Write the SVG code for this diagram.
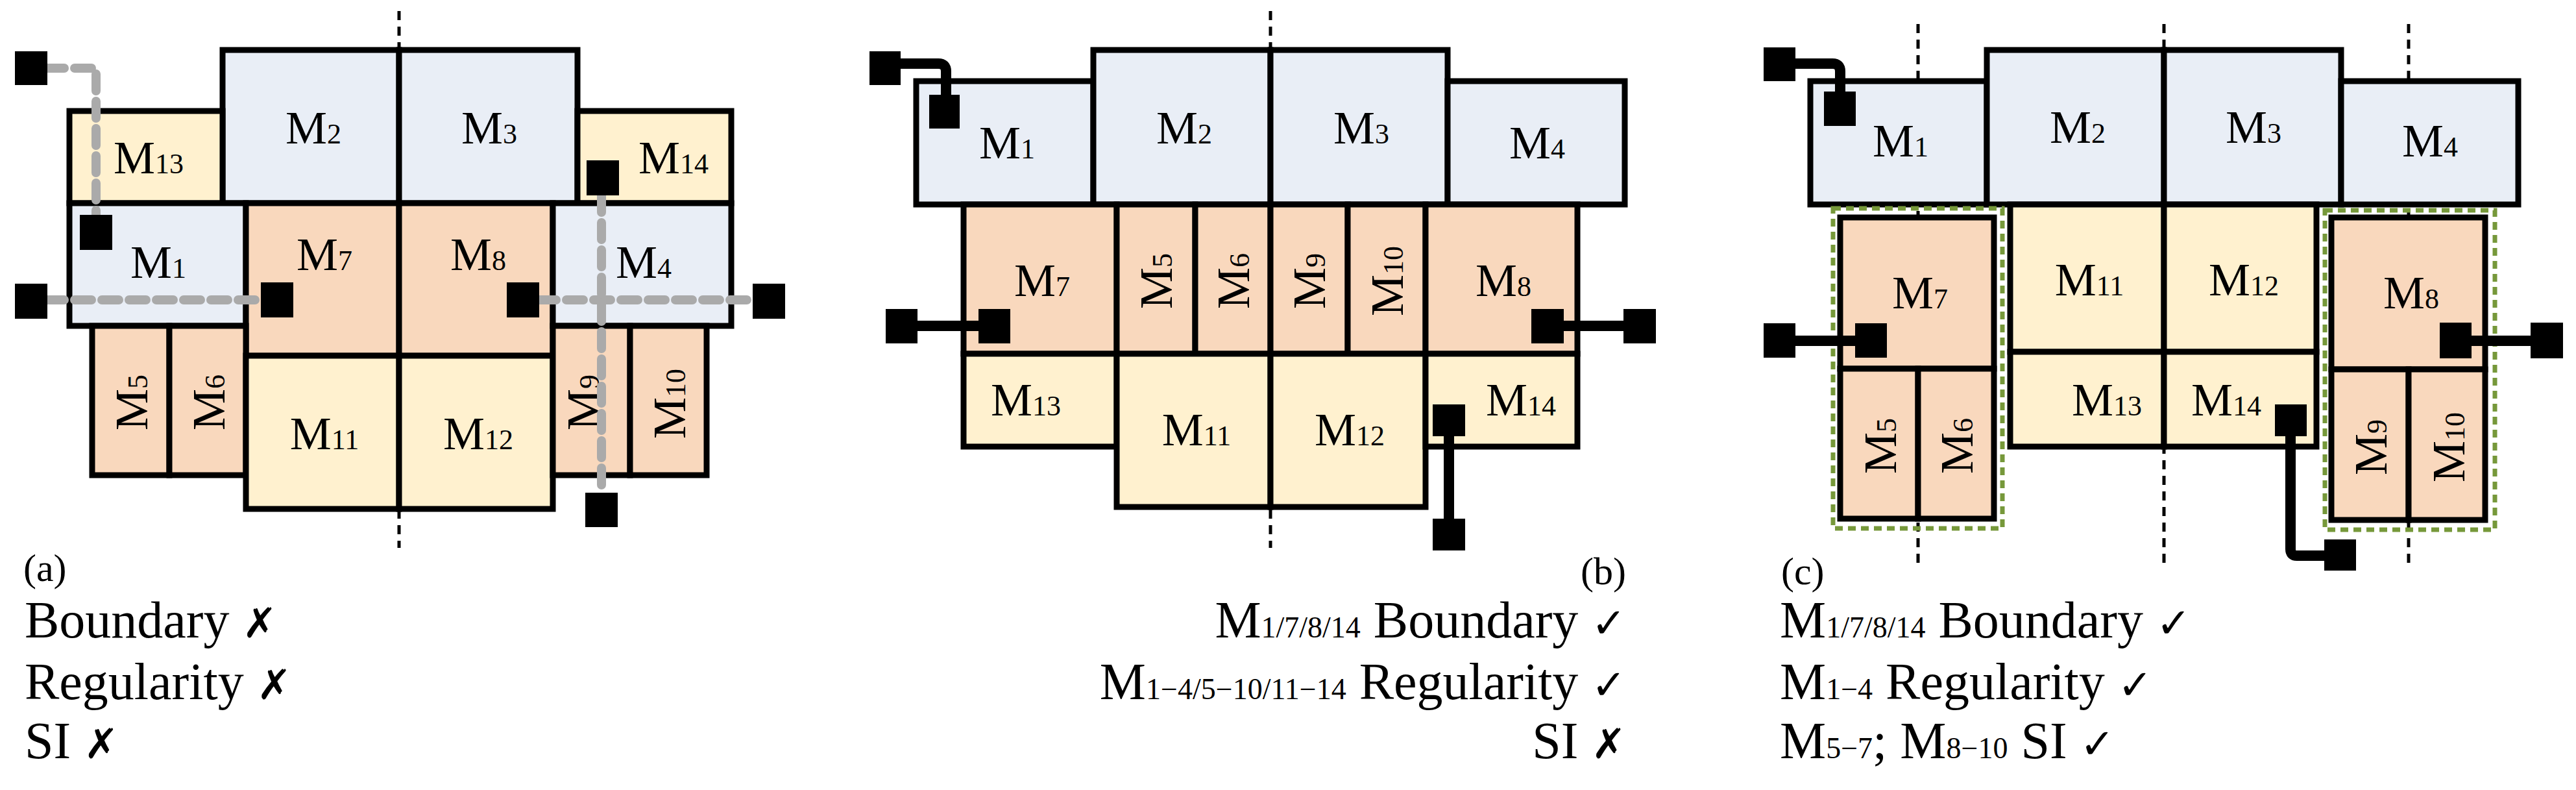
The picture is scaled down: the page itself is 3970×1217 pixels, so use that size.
<svg xmlns="http://www.w3.org/2000/svg" width="3970" height="1217" viewBox="0 0 3970 1217">
<style>
.b{fill:#e9eef6;stroke:#000;stroke-width:9}
.o{fill:#f9d8bd;stroke:#000;stroke-width:9}
.y{fill:#fff1cf;stroke:#000;stroke-width:9}
.ax{stroke:#000;stroke-width:5;stroke-dasharray:14 10;fill:none}
.g{stroke:#aaaaaa;stroke-width:14;stroke-dasharray:26 16;stroke-linecap:round;fill:none}
.w{stroke:#000;stroke-width:16;fill:none;stroke-linejoin:round}
.gr{fill:none;stroke:#76983a;stroke-width:7;stroke-dasharray:12 8}
.sq{fill:#000}
text{font-family:"Liberation Serif","Times New Roman",serif;fill:#000}
.m{font-size:72px;text-anchor:middle}
.s{font-size:44px}
.t{font-size:80px}
.ss{font-size:46px}
.sym{font-family:"DejaVu Sans",sans-serif;font-size:64px}
</style>
<g id="axes">
<line class="ax" x1="615" y1="17" x2="615" y2="844"/>
<line class="ax" x1="1958" y1="17" x2="1958" y2="844"/>
<line class="ax" x1="2956" y1="37" x2="2956" y2="867"/>
<line class="ax" x1="3335" y1="37" x2="3335" y2="867"/>
<line class="ax" x1="3712" y1="37" x2="3712" y2="867"/>
</g>
<g id="panel-a">
<rect class="b" x="343" y="77" width="272" height="236"/><text class="m" x="483" y="221">M<tspan class="s">2</tspan></text>
<rect class="b" x="615" y="77" width="275" height="236"/><text class="m" x="754" y="221">M<tspan class="s">3</tspan></text>
<rect class="y" x="107" y="171" width="236" height="142"/><text class="m" x="229" y="267">M<tspan class="s">13</tspan></text>
<rect class="y" x="890" y="171" width="237" height="142"/><text class="m" x="1038" y="267">M<tspan class="s">14</tspan></text>
<rect class="b" x="107" y="313" width="272" height="189"/><text class="m" x="244" y="428">M<tspan class="s">1</tspan></text>
<rect class="o" x="379" y="313" width="236" height="235"/><text class="m" x="500" y="416">M<tspan class="s">7</tspan></text>
<rect class="o" x="615" y="313" width="237" height="235"/><text class="m" x="737" y="416">M<tspan class="s">8</tspan></text>
<rect class="b" x="852" y="313" width="275" height="189"/><text class="m" x="992" y="428">M<tspan class="s">4</tspan></text>
<rect class="o" x="142" y="502" width="119" height="230"/><text class="m" x="202" y="645" transform="rotate(-90 202 620)">M<tspan class="s">5</tspan></text>
<rect class="o" x="261" y="502" width="118" height="230"/><text class="m" x="321" y="645" transform="rotate(-90 321 620)">M<tspan class="s">6</tspan></text>
<rect class="y" x="379" y="548" width="236" height="236"/><text class="m" x="500" y="692">M<tspan class="s">11</tspan></text>
<rect class="y" x="615" y="548" width="237" height="236"/><text class="m" x="737" y="692">M<tspan class="s">12</tspan></text>
<rect class="o" x="852" y="502" width="119" height="230"/><text class="m" x="898" y="645" transform="rotate(-90 898 620)">M<tspan class="s">9</tspan></text>
<rect class="o" x="971" y="502" width="118" height="230"/><text class="m" x="1031" y="647" transform="rotate(-90 1031 622)">M<tspan class="s">10</tspan></text>
<text class="t" x="36" y="895" style="font-size:60px">(a)</text>
<text class="t" x="38" y="982">Boundary <tspan class="sym">✗</tspan></text>
<text class="t" x="38" y="1077">Regularity <tspan class="sym">✗</tspan></text>
<text class="t" x="38" y="1168">SI <tspan class="sym">✗</tspan></text>
</g>
<g id="connectors">
<path class="g" d="M73,105 H148 V331"/>
<path class="g" d="M73,462 H402"/>
<path class="g" d="M831,462 H1160"/>
<path class="g" d="M927,301 V759"/>
<rect class="sq" x="23" y="79" width="50" height="52"/>
<rect class="sq" x="123" y="331" width="50" height="54"/>
<rect class="sq" x="23" y="437" width="50" height="54"/>
<rect class="sq" x="402" y="435" width="50" height="54"/>
<rect class="sq" x="781" y="435" width="50" height="54"/>
<rect class="sq" x="1160" y="437" width="50" height="54"/>
<rect class="sq" x="904" y="247" width="50" height="54"/>
<rect class="sq" x="902" y="759" width="50" height="53"/>
</g>
<g id="panel-b">
<rect class="b" x="1412" y="125" width="273" height="190"/><text class="m" x="1552" y="244">M<tspan class="s">1</tspan></text>
<rect class="b" x="1685" y="77" width="273" height="238"/><text class="m" x="1825" y="221">M<tspan class="s">2</tspan></text>
<rect class="b" x="1958" y="77" width="273" height="238"/><text class="m" x="2098" y="221">M<tspan class="s">3</tspan></text>
<rect class="b" x="2231" y="125" width="273" height="190"/><text class="m" x="2369" y="244">M<tspan class="s">4</tspan></text>
<rect class="o" x="1485" y="315" width="236" height="230"/><text class="m" x="1606" y="456">M<tspan class="s">7</tspan></text>
<rect class="o" x="1721" y="315" width="121" height="230"/><text class="m" x="1781" y="458" transform="rotate(-90 1781 433)">M<tspan class="s">5</tspan></text>
<rect class="o" x="1842" y="315" width="116" height="230"/><text class="m" x="1900" y="458" transform="rotate(-90 1900 433)">M<tspan class="s">6</tspan></text>
<rect class="o" x="1958" y="315" width="119" height="230"/><text class="m" x="2017" y="458" transform="rotate(-90 2017 433)">M<tspan class="s">9</tspan></text>
<rect class="o" x="2077" y="315" width="120" height="230"/><text class="m" x="2137" y="458" transform="rotate(-90 2137 433)">M<tspan class="s">10</tspan></text>
<rect class="o" x="2197" y="315" width="234" height="230"/><text class="m" x="2317" y="456">M<tspan class="s">8</tspan></text>
<rect class="y" x="1485" y="545" width="236" height="143"/><text class="m" x="1581" y="640">M<tspan class="s">13</tspan></text>
<rect class="y" x="1721" y="545" width="237" height="236"/><text class="m" x="1844" y="686">M<tspan class="s">11</tspan></text>
<rect class="y" x="1958" y="545" width="239" height="236"/><text class="m" x="2080" y="686">M<tspan class="s">12</tspan></text>
<rect class="y" x="2197" y="545" width="234" height="143"/><text class="m" x="2344" y="640">M<tspan class="s">14</tspan></text>
<path class="w" d="M1388,98 H1446 Q1458,98 1458,110 V146"/>
<rect class="sq" x="1340" y="79" width="48" height="52"/>
<rect class="sq" x="1432" y="146" width="47" height="52"/>
<path class="w" d="M1414,502 H1508"/>
<rect class="sq" x="1365" y="476" width="49" height="53"/>
<rect class="sq" x="1508" y="476" width="49" height="53"/>
<path class="w" d="M2410,502 H2502"/>
<rect class="sq" x="2360" y="476" width="50" height="53"/>
<rect class="sq" x="2502" y="476" width="50" height="53"/>
<path class="w" d="M2233,672 V799"/>
<rect class="sq" x="2208" y="623" width="50" height="49"/>
<rect class="sq" x="2208" y="799" width="50" height="49"/>
<text class="t" x="2506" y="900" text-anchor="end" style="font-size:60px">(b)</text>
<text class="t" x="2506" y="982" text-anchor="end">M<tspan class="ss">1/7/8/14</tspan> Boundary <tspan class="sym">✓</tspan></text>
<text class="t" x="2506" y="1077" text-anchor="end">M<tspan class="ss">1−4/5−10/11−14</tspan> Regularity <tspan class="sym">✓</tspan></text>
<text class="t" x="2506" y="1168" text-anchor="end">SI <tspan class="sym">✗</tspan></text>
</g>
<g id="panel-c">
<rect class="b" x="2790" y="125" width="272" height="190"/><text class="m" x="2929" y="241">M<tspan class="s">1</tspan></text>
<rect class="b" x="3062" y="77" width="273" height="238"/><text class="m" x="3202" y="220">M<tspan class="s">2</tspan></text>
<rect class="b" x="3335" y="77" width="273" height="238"/><text class="m" x="3473" y="220">M<tspan class="s">3</tspan></text>
<rect class="b" x="3608" y="125" width="273" height="190"/><text class="m" x="3745" y="241">M<tspan class="s">4</tspan></text>
<rect class="gr" x="2825" y="321" width="261" height="493"/>
<rect class="o" x="2836" y="335" width="237" height="233"/><text class="m" x="2959" y="475">M<tspan class="s">7</tspan></text>
<rect class="o" x="2836" y="568" width="120" height="231"/><text class="m" x="2897" y="712" transform="rotate(-90 2897 687)">M<tspan class="s">5</tspan></text>
<rect class="o" x="2956" y="568" width="117" height="231"/><text class="m" x="3015" y="712" transform="rotate(-90 3015 687)">M<tspan class="s">6</tspan></text>
<rect class="y" x="3098" y="315" width="237" height="227"/><text class="m" x="3220" y="455">M<tspan class="s">11</tspan></text>
<rect class="y" x="3335" y="315" width="235" height="227"/><text class="m" x="3458" y="455">M<tspan class="s">12</tspan></text>
<rect class="y" x="3098" y="542" width="237" height="146"/><text class="m" x="3247" y="640">M<tspan class="s">13</tspan></text>
<rect class="y" x="3335" y="542" width="235" height="146"/><text class="m" x="3431" y="640">M<tspan class="s">14</tspan></text>
<rect class="gr" x="3583" y="324" width="262" height="492"/>
<rect class="o" x="3593" y="335" width="237" height="234"/><text class="m" x="3716" y="475">M<tspan class="s">8</tspan></text>
<rect class="o" x="3593" y="569" width="119" height="232"/><text class="m" x="3653" y="714" transform="rotate(-90 3653 689)">M<tspan class="s">9</tspan></text>
<rect class="o" x="3712" y="569" width="118" height="232"/><text class="m" x="3773" y="714" transform="rotate(-90 3773 689)">M<tspan class="s">10</tspan></text>
<path class="w" d="M2767,98 H2824 Q2836,98 2836,110 V141"/>
<rect class="sq" x="2718" y="73" width="49" height="52"/>
<rect class="sq" x="2811" y="141" width="49" height="53"/>
<path class="w" d="M2767,525 H2859"/>
<rect class="sq" x="2718" y="498" width="49" height="53"/>
<rect class="sq" x="2859" y="498" width="49" height="53"/>
<path class="w" d="M3809,525 H3900"/>
<rect class="sq" x="3760" y="497" width="49" height="55"/>
<rect class="sq" x="3900" y="497" width="50" height="55"/>
<path class="w" d="M3530,672 V846 Q3530,856 3540,856 H3582"/>
<rect class="sq" x="3506" y="623" width="49" height="49"/>
<rect class="sq" x="3582" y="831" width="49" height="48"/>
<text class="t" x="2745" y="900" style="font-size:60px">(c)</text>
<text class="t" x="2743" y="982">M<tspan class="ss">1/7/8/14</tspan> Boundary <tspan class="sym">✓</tspan></text>
<text class="t" x="2743" y="1077">M<tspan class="ss">1−4</tspan> Regularity <tspan class="sym">✓</tspan></text>
<text class="t" x="2743" y="1168">M<tspan class="ss">5−7</tspan>; M<tspan class="ss">8−10</tspan> SI <tspan class="sym">✓</tspan></text>
</g>
</svg>
